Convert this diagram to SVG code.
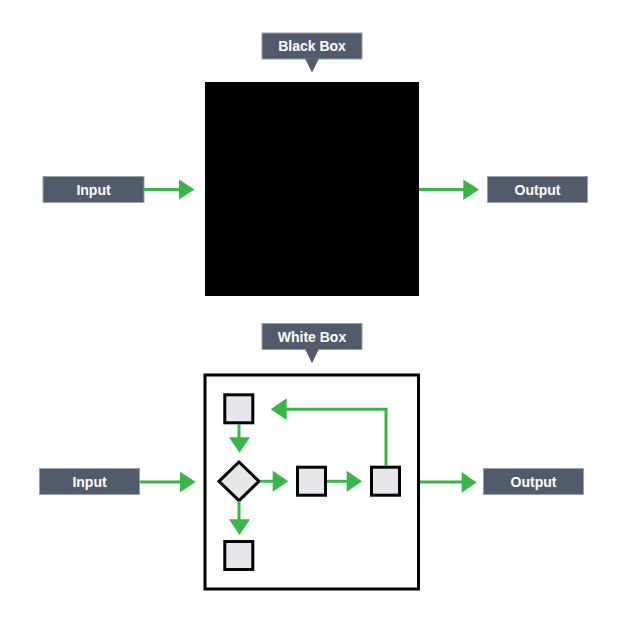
<svg xmlns="http://www.w3.org/2000/svg" width="624" height="624" viewBox="0 0 624 624">
<style>
.lbl{fill:#525b6b;stroke:#9aa0ab;stroke-width:1}
.txt{fill:#ffffff;font-family:"Liberation Sans",Arial,sans-serif;font-weight:bold;font-size:14px;text-anchor:middle}
.ln{stroke:#3ab54a;stroke-width:3;fill:none}
.ah{fill:#3ab54a}
.sb{fill:#e6e6eb;stroke:#000;stroke-width:3}
</style>
<rect width="624" height="624" fill="#fff"/>
<g id="black-box-label">
<rect class="lbl" x="262" y="33" width="100" height="26"/>
<polygon points="305,58.5 319,58.5 312,72.5" fill="#525b6b"/>
<text class="txt" x="312" y="51">Black Box</text>
</g>
<g id="black-box"><rect x="205" y="82" width="214" height="214" fill="#000"/></g>
<g id="input-top">
<rect class="lbl" x="43" y="176.5" width="101" height="26"/>
<text class="txt" x="93.5" y="194.5">Input</text>
</g>
<g id="output-top">
<rect class="lbl" x="487.5" y="176.5" width="100" height="26"/>
<text class="txt" x="537.5" y="194.5">Output</text>
</g>
<g id="white-box-label">
<rect class="lbl" x="262" y="323.5" width="100" height="26"/>
<polygon points="305,349 319,349 312,363" fill="#525b6b"/>
<text class="txt" x="312" y="341.5">White Box</text>
</g>
<g id="white-box"><rect x="205" y="375" width="213.5" height="214" fill="#fff" stroke="#000" stroke-width="3"/></g>
<g id="input-bottom">
<rect class="lbl" x="39.5" y="468.5" width="100" height="26"/>
<text class="txt" x="89.5" y="486.5">Input</text>
</g>
<g id="output-bottom">
<rect class="lbl" x="483.5" y="468.5" width="100" height="26"/>
<text class="txt" x="533.5" y="486.5">Output</text>
</g>
<g id="box-top"><rect class="sb" x="224.8" y="394.8" width="28" height="28"/></g>
<g id="decision"><polygon class="sb" points="239,462 259,481.3 239,500.6 219,481.3"/></g>
<g id="box-middle"><rect class="sb" x="297.5" y="467.2" width="28" height="28"/></g>
<g id="box-right"><rect class="sb" x="371.5" y="467.2" width="28" height="28"/></g>
<g id="box-bottom"><rect class="sb" x="224.8" y="541.5" width="28" height="28"/></g>
<g id="connectors">
<line class="ln" x1="144" y1="189.5" x2="180" y2="189.5"/>
<polygon class="ah" points="179,179.5 194.5,189.5 179,199.5"/>
<line class="ln" x1="419" y1="189.5" x2="464" y2="189.5"/>
<polygon class="ah" points="463.3,179.5 479,189.5 463.3,200"/>
<line class="ln" x1="139.5" y1="482" x2="181" y2="482"/>
<polygon class="ah" points="180,471.7 195.7,482 180,492.3"/>
<line class="ln" x1="420" y1="482" x2="462" y2="482"/>
<polygon class="ah" points="461.7,472 476.7,482.5 461.7,492.7"/>
<line class="ln" x1="239" y1="424" x2="239" y2="438"/>
<polygon class="ah" points="229,437.3 250,437.3 239.5,452.7"/>
<line class="ln" x1="260" y1="481.3" x2="273" y2="481.3"/>
<polygon class="ah" points="272.7,470.7 288.3,481.3 272.7,491.7"/>
<line class="ln" x1="327" y1="481.3" x2="347" y2="481.3"/>
<polygon class="ah" points="346.7,470.7 362,481.3 346.7,491.7"/>
<polyline class="ln" points="386,466 386,409.3 286,409.3"/>
<polygon class="ah" points="286.7,398.3 270.7,409.3 286.7,420"/>
<line class="ln" x1="239" y1="501" x2="239" y2="520"/>
<polygon class="ah" points="229,519.3 250,519.3 239.5,535"/>
</g>
</svg>
